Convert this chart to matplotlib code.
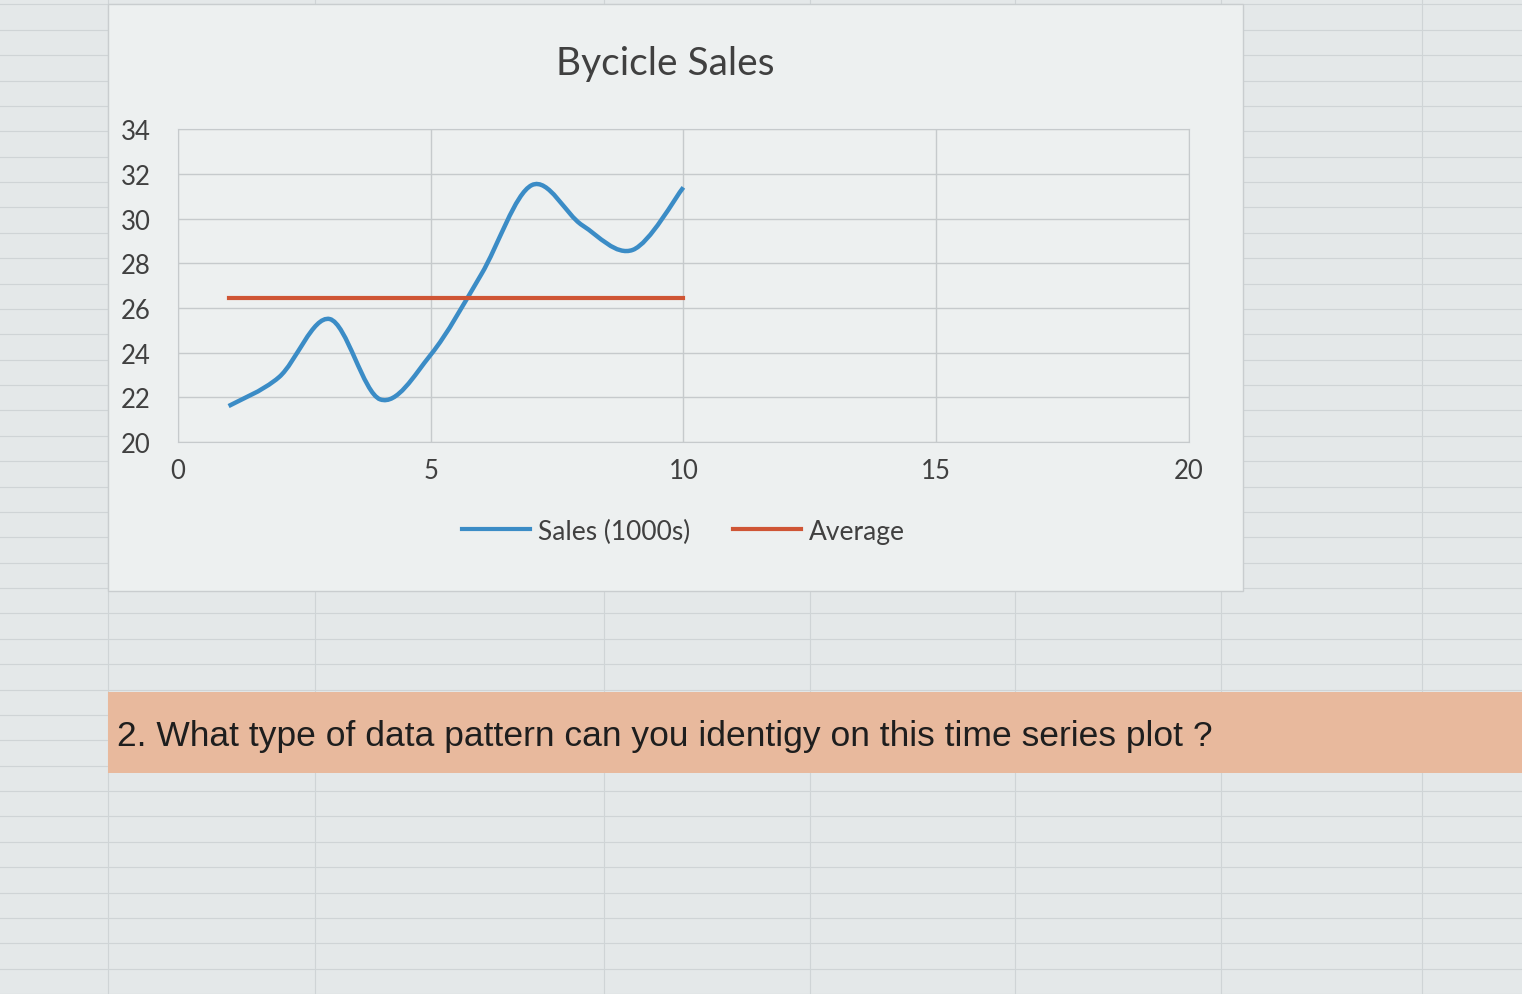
import numpy as np
import matplotlib
matplotlib.use("Agg")
import matplotlib.pyplot as plt
from matplotlib.path import Path
from matplotlib.patches import PathPatch, Rectangle
from matplotlib.lines import Line2D

# data: bicycle sales per year (1000s)
years = [1, 2, 3, 4, 5, 6, 7, 8, 9, 10]
sales = [21.6, 22.9, 25.5, 21.9, 23.9, 27.5, 31.5, 29.7, 28.6, 31.4]
avg = [np.mean(sales)] * len(years)

x_ticks = [0, 5, 10, 15, 20]
y_ticks = [20, 22, 24, 26, 28, 30, 32, 34]

title = "Bycicle Sales"
question = "2. What type of data pattern can you identigy on this time series plot ?"

blue = "#3b8cc6"
orange = "#cf5535"

fig = plt.figure(figsize=(15.22, 9.95), dpi=100)
fig.patch.set_facecolor("#e4e8e9")

# spreadsheet cell lines (decoration)
for yy in np.arange(0.0, 1.0, 0.0255):
    fig.add_artist(Line2D([0, 1], [yy, yy], color="#cfd4d6", lw=0.8, zorder=0))
for xx in [0.071, 0.207, 0.397, 0.532, 0.667, 0.802, 0.934]:
    fig.add_artist(Line2D([xx, xx], [0, 1], color="#cfd4d6", lw=0.8, zorder=0))

# chart area
fig.add_artist(Rectangle((0.071, 0.405), 0.746, 0.59, transform=fig.transFigure,
                         facecolor="#edf0f0", edgecolor="#c9cdcf", lw=1, zorder=1))

# question band
fig.add_artist(Rectangle((0.071, 0.222), 0.929, 0.082, transform=fig.transFigure,
                         facecolor="#e8b99d", edgecolor="none", zorder=1))
fig.text(0.077, 0.25, question, fontsize=25.5, family="Liberation Sans",
         color="#1e1e1e", zorder=3)

ax = fig.add_axes([0.117, 0.555, 0.664, 0.314])
ax.set_zorder(5)
ax.set_facecolor("#edf0f0")
ax.set_xlim(0, 20)
ax.set_ylim(20, 34)
ax.set_xticks(x_ticks)
ax.set_yticks(y_ticks)
ax.grid(True, color="#c6cacc", lw=1)
ax.set_axisbelow(True)
for s in ax.spines.values():
    s.set_color("#c6cacc")
ax.tick_params(length=0, labelsize=18.5, colors="#404040")
ax.tick_params(axis="y", pad=20)
ax.tick_params(axis="x", pad=12)
for lab in ax.get_xticklabels() + ax.get_yticklabels():
    lab.set_family("Lato")

# smoothed sales line (Catmull-Rom style bezier through the points)
pts = np.column_stack([years, sales]).astype(float)
verts = [pts[0]]
codes = [Path.MOVETO]
for i in range(len(pts) - 1):
    p0 = pts[i - 1] if i > 0 else pts[i]
    p1 = pts[i]
    p2 = pts[i + 1]
    p3 = pts[i + 2] if i + 2 < len(pts) else pts[i + 1]
    c1 = p1 + (p2 - p0) / 6.0
    c2 = p2 - (p3 - p1) / 6.0
    verts += [c1, c2, p2]
    codes += [Path.CURVE4] * 3
ax.add_patch(PathPatch(Path(verts, codes), facecolor="none", edgecolor=blue, lw=3.2))
ax.plot(years, avg, color=orange, lw=3)

ax.plot([], [], color=blue, lw=3, label="Sales (1000s)")
ax.plot([], [], color=orange, lw=3, label="Average")
leg = ax.legend(loc="upper center", bbox_to_anchor=(0.5, -0.17), ncol=2, frameon=False,
                prop={"family": "Lato", "size": 19}, handlelength=2.6, handletextpad=0.3,
                columnspacing=1.6)
for t in leg.get_texts():
    t.set_color("#404040")

fig.text(0.437, 0.925, title, fontsize=28, family="Lato", color="#404040", ha="center")

fig.savefig("out.png", dpi=100, facecolor=fig.get_facecolor())
